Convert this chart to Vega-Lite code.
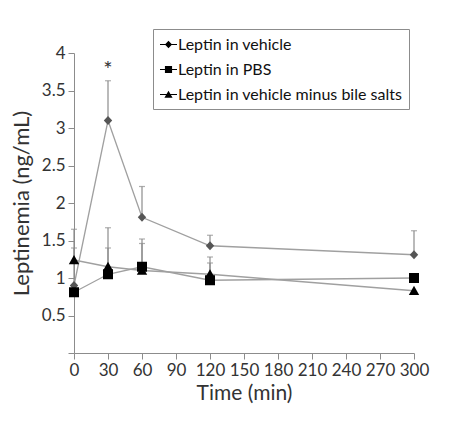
{
  "$schema": "https://vega.github.io/schema/vega-lite/v6.json",
  "width": 340,
  "height": 300,
  "autosize": "none",
  "padding": {"left": 74, "top": 53, "right": 36, "bottom": 69},
  "background": "white",
  "config": {
    "view": {"stroke": null},
    "font": "Lato",
    "axis": {
      "grid": false,
      "domainColor": "#8c8c8c",
      "tickColor": "#8c8c8c",
      "labelColor": "#333333",
      "titleColor": "#333333",
      "labelFont": "Lato",
      "titleFont": "Lato",
      "labelFontSize": 17,
      "titleFontSize": 21,
      "titleFontWeight": "normal",
      "labelOverlap": false,
      "labelFlush": false,
      "tickSize": 6
    }
  },
  "data": {
    "values": [
      {"series": "Leptin in vehicle", "t": 0, "y": 0.9, "hi": null},
      {"series": "Leptin in vehicle", "t": 30, "y": 3.1, "hi": 3.63},
      {"series": "Leptin in vehicle", "t": 60, "y": 1.81, "hi": 2.22},
      {"series": "Leptin in vehicle", "t": 120, "y": 1.43, "hi": 1.57},
      {"series": "Leptin in vehicle", "t": 300, "y": 1.31, "hi": 1.63},
      {"series": "Leptin in PBS", "t": 0, "y": 0.81, "hi": 1.4},
      {"series": "Leptin in PBS", "t": 30, "y": 1.05, "hi": 1.4},
      {"series": "Leptin in PBS", "t": 60, "y": 1.15, "hi": 1.52},
      {"series": "Leptin in PBS", "t": 120, "y": 0.97, "hi": 1.2},
      {"series": "Leptin in PBS", "t": 300, "y": 1.0, "hi": null},
      {"series": "Leptin in vehicle minus bile salts", "t": 0, "y": 1.24, "hi": 1.65},
      {"series": "Leptin in vehicle minus bile salts", "t": 30, "y": 1.15, "hi": 1.67},
      {"series": "Leptin in vehicle minus bile salts", "t": 60, "y": 1.1, "hi": 1.46},
      {"series": "Leptin in vehicle minus bile salts", "t": 120, "y": 1.05, "hi": 1.28},
      {"series": "Leptin in vehicle minus bile salts", "t": 300, "y": 0.83, "hi": null}
    ]
  },
  "resolve": {"scale": {"shape": "independent"}, "legend": {"shape": "independent"}},
  "encoding": {
    "x": {
      "field": "t",
      "type": "quantitative",
      "title": "Time (min)",
      "scale": {"domain": [0, 300], "nice": false},
      "axis": {"values": [0, 30, 60, 90, 120, 150, 180, 210, 240, 270, 300], "labelPadding": 3, "titlePadding": 4}
    }
  },
  "layer": [
    {
      "transform": [{"filter": "datum.hi != null"}],
      "mark": {"type": "rule", "color": "#8c8c8c", "strokeWidth": 1.2},
      "encoding": {
        "y": {
          "field": "y",
          "type": "quantitative",
          "title": "Leptinemia (ng/mL)",
          "scale": {"domain": [0, 4], "nice": false},
          "axis": {"tickCount": 8, "tickMinStep": 0.5, "labelOverlap": false, "labelExpr": "datum.value == 0 ? '' : format(datum.value, '~g')", "labelPadding": 3, "titlePadding": 8, "titleFontSize": 22}
        },
        "y2": {"field": "hi"}
      }
    },
    {
      "transform": [{"filter": "datum.hi != null"}],
      "mark": {"type": "tick", "orient": "horizontal", "color": "#8c8c8c", "size": 6, "thickness": 1.2},
      "encoding": {
        "y": {"field": "hi", "type": "quantitative"}
      }
    },
    {
      "mark": {"type": "line", "color": "#a0a0a0", "strokeWidth": 1.3},
      "encoding": {
        "y": {"field": "y", "type": "quantitative"},
        "detail": {"field": "series"}
      }
    },
    {
      "mark": {"type": "point", "filled": true, "opacity": 1, "size": 400},
      "encoding": {
        "y": {"field": "y", "type": "quantitative"},
        "shape": {
          "field": "series",
          "type": "nominal",
          "scale": {
            "domain": ["Leptin in vehicle", "Leptin in PBS", "Leptin in vehicle minus bile salts"],
            "range": [
              "M0,-0.45L0.42,0L0,0.45L-0.42,0Z",
              "M-0.5,-0.5H0.5V0.5H-0.5Z",
              "M0,-0.5L0.52,0.42H-0.52Z"
            ]
          },
          "legend": null
        },
        "color": {
          "condition": {"test": "datum.series == 'Leptin in vehicle'", "value": "#555555"},
          "value": "#000000"
        }
      }
    },
    {
      "transform": [{"filter": "false"}],
      "mark": {"type": "point", "filled": true, "opacity": 1, "color": "black"},
      "encoding": {
        "y": {"field": "y", "type": "quantitative"},
        "shape": {
          "field": "series",
          "type": "nominal",
          "scale": {
            "domain": ["Leptin in vehicle", "Leptin in PBS", "Leptin in vehicle minus bile salts"],
            "range": [
              "M-1,-0.06H1V0.06H-1ZM0,-0.45L0.42,0L0,0.45L-0.42,0Z",
              "M-1,-0.06H1V0.06H-1ZM-0.42,-0.42H0.42V0.42H-0.42Z",
              "M-1,-0.06H1V0.06H-1ZM0,-0.45L0.48,0.38H-0.48Z"
            ]
          },
          "legend": {
            "title": null,
            "orient": "none",
            "legendX": 79,
            "legendY": -24,
            "strokeColor": "#8c8c8c",
            "fillColor": "white",
            "padding": 6,
            "labelFont": "Lato",
            "labelFontSize": 16,
            "labelColor": "#111111",
            "labelLimit": 400,
            "rowPadding": 7,
            "symbolSize": 289,
            "symbolFillColor": "black",
            "symbolOpacity": 1,
            "labelOffset": 0
          }
        }
      }
    },
    {
      "data": {"values": [{"t": 30, "y": 3.78, "label": "*"}]},
      "mark": {"type": "text", "fontSize": 22, "fill": "#333333", "font": "Lato"},
      "encoding": {
        "y": {"field": "y", "type": "quantitative"},
        "text": {"field": "label"}
      }
    }
  ]
}
